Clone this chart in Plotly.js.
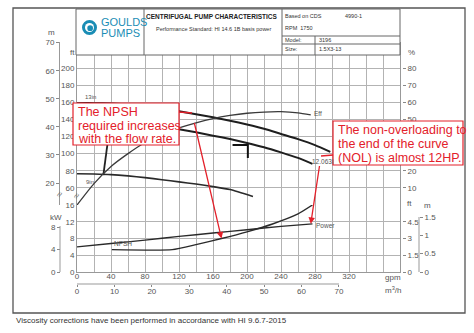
<!DOCTYPE html>
<html><head><meta charset="utf-8">
<script src="https://cdn.plot.ly/plotly-3.0.1.min.js"></script>
<style>html,body{margin:0;padding:0;background:#fff}#chart{width:474px;height:333px}</style>
</head><body><div id="chart"></div>
<script>
// ---------- data ----------
const gpmGrid = [0,20,40,60,80,100,120,140,160,180,200,220,240,260,280,300,320,340,360,380];
const gpmLabels = [0,40,80,120,160,200,240,280,320];
const m3hTicks = [0,10,20,30,40,50,60,70];
const headFtTicks = [40,60,80,100,120,140,160,180,200];
const headMTicks = [20,30,40,50,60,70];
const effTicks = [10,20,30,40,50,60,70,80];
const effHiddenByNote = [30,40];
const hpTicks = [0,4,8,12,16];
const kwTicks = [0,4,8];
const npshFtTicks = [0,1.5,3,4.5];
const npshMTicks = [0,0.5,1,1.5];

const gpm13 = [0,20,40,60,80,100,120,140,160,180,200,220,240,260,280,298];
const head13 = [159,159,158.5,157.5,155.5,153,149.5,146,142.5,138.5,134,129,123,117,110,102];
const gpm12 = [0,20,40,60,80,100,120,140,160,180,200,220,240,260,277];
const head12 = [137,137,136.5,135.5,134,131.5,128.5,125,121,117,112.5,107.5,101.5,95,88];
const gpm9 = [0,20,40,60,80,100,120,140,160,180,207];
const head9 = [76.5,76.2,75.5,74,72,69.5,67,64.5,61.5,58,50];
const gpmEff = [0,20,40,60,80,100,120,140,160,180,200,220,240,260,275];
const eff = [0,12.5,22.5,30,36.5,41.5,45,48,50.5,52.3,53.6,54.3,54.5,53.8,52.6];
const gpmPower = [0,40,80,120,160,200,240,277];
const power = [6.0,6.8,7.6,8.5,9.3,10.1,10.9,11.5];
const gpmNpsh = [41,112,140,170,200,230,260,277];
const npsh = [2.0,2.0,2.45,3.0,3.6,4.3,5.2,6.0];
const gpmMinFlow = [31,37];
const headMinFlow = [75,120];
const gpmRated = [183,201,201];
const headRated = [110,110,95];
const npshArrowTip = {gpm:170, ft:3.0};
const powerArrowTip = {gpm:275, hp:11.5};

// ---------- helpers ----------
const W=474,H=333;
const X=v=>v/W, Y=v=>1-v/H;
const FF='Liberation Sans, Arial, sans-serif';
const tickFont={family:FF,size:8,color:'#555'};
const gridC='#b3b3b3';
const RED='#e3202a', TEAL='#1a8db5';
const ftPerM=3.2808, gpmPerM3h=4.4029, kwPerHp=0.7457;
const ftRange=[40,230.4], hpRange=[0,16], npshRange=[0,6];

const line=(x,y,xa,ya,color,w)=>({x,y,xaxis:xa,yaxis:ya,type:'scatter',mode:'lines',
  line:{color,width:w,shape:'spline',smoothing:0.6},hoverinfo:'skip',showlegend:false});
const dummy=(xa,ya)=>({x:[null],y:[null],xaxis:xa,yaxis:ya,type:'scatter',mode:'lines',hoverinfo:'skip',showlegend:false});

const traces=[
  line(gpm13,head13,'x','y','#1e1e1e',2),
  line(gpm12,head12,'x','y','#1e1e1e',2),
  line(gpm9,head9,'x','y','#2a2a2a',1.6),
  line(gpmEff,eff,'x','y2','#3a3a3a',1.3),
  {x:gpmMinFlow,y:headMinFlow,xaxis:'x',yaxis:'y',type:'scatter',mode:'lines',line:{color:'#222',width:1.8},hoverinfo:'skip',showlegend:false},
  {x:gpmRated,y:headRated,xaxis:'x',yaxis:'y',type:'scatter',mode:'lines',line:{color:'#111',width:2},hoverinfo:'skip',showlegend:false},
  line(gpmPower,power,'x','y3','#2a2a2a',1.4),
  {x:gpmNpsh,y:npsh,xaxis:'x',yaxis:'y4',type:'scatter',mode:'lines',line:{color:'#2a2a2a',width:1.4,shape:'spline',smoothing:0.5},hoverinfo:'skip',showlegend:false},
  dummy('x','y5'),dummy('x','y6'),dummy('x','y7'),dummy('x2','y3')
];

const upDom=[Y(205),Y(42)], loDom=[Y(272),Y(205)];
const baseY={showgrid:false,zeroline:false,ticks:'outside',ticklen:3,tickcolor:'#888',tickfont:tickFont,fixedrange:true,showline:false,tickmode:'array'};

const layout={
  width:W,height:H,margin:{l:0,r:0,t:0,b:0,autoexpand:false},
  paper_bgcolor:'#fff',plot_bgcolor:'rgba(0,0,0,0)',showlegend:false,
  xaxis:{domain:[X(77),X(400)],range:[0,380],anchor:'y3',tickmode:'array',tickvals:gpmGrid,
    ticktext:gpmGrid.map(v=>gpmLabels.includes(v)?String(v):''),showgrid:true,gridcolor:gridC,gridwidth:1,
    zeroline:false,showline:true,linecolor:'#999',ticks:'',ticklabelstandoff:-4,tickfont:tickFont,fixedrange:true},
  xaxis2:{overlaying:'x',anchor:'free',position:Y(284),side:'bottom',range:[0,380/gpmPerM3h],tickmode:'array',
    tickvals:m3hTicks,ticks:'outside',ticklen:2,tickcolor:'#888',ticklabelstandoff:-3,tickfont:tickFont,showgrid:false,zeroline:false,showline:false,fixedrange:true},
  yaxis:{domain:upDom,range:ftRange,anchor:'x',tickmode:'array',tickvals:headFtTicks,ticktext:headFtTicks.map(v=>v===40?'':String(v)),
    showgrid:true,gridcolor:gridC,gridwidth:1,zeroline:false,showline:true,linecolor:'#999',mirror:true,ticks:'',tickfont:tickFont,fixedrange:true},
  yaxis2:Object.assign({},baseY,{overlaying:'y',anchor:'free',position:X(402),side:'right',range:[(ftRange[0]-40)/2,(ftRange[1]-40)/2],
    tickvals:effTicks,ticktext:effTicks.map(v=>effHiddenByNote.includes(v)?'':String(v))}),
  yaxis3:{domain:loDom,range:hpRange,anchor:'x',tickmode:'array',tickvals:hpTicks,showgrid:true,gridcolor:gridC,gridwidth:1,zeroline:false,
    showline:true,linecolor:'#999',mirror:true,ticks:'',tickfont:tickFont,fixedrange:true},
  yaxis4:Object.assign({},baseY,{overlaying:'y3',anchor:'free',position:X(402),side:'right',range:npshRange,tickvals:npshFtTicks,ticktext:['0','1.5','3','4.5']}),
  yaxis5:Object.assign({},baseY,{overlaying:'y',anchor:'free',position:X(59),side:'left',range:[ftRange[0]/ftPerM,ftRange[1]/ftPerM],tickvals:headMTicks,showline:true,linecolor:'#999'}),
  yaxis6:Object.assign({},baseY,{overlaying:'y3',anchor:'free',position:X(60),side:'left',range:[0,hpRange[1]*kwPerHp],tickvals:kwTicks}),
  yaxis7:Object.assign({},baseY,{overlaying:'y3',anchor:'free',position:X(419),side:'right',range:[0,npshRange[1]/ftPerM],tickvals:npshMTicks,ticktext:['0','0.5','1','1.5']}),
  shapes:[],annotations:[]
};

const S=layout.shapes, A=layout.annotations;
const pl=(x0,y0,x1,y1,color,w)=>S.push({type:'line',xref:'paper',yref:'paper',x0:X(x0),x1:X(x1),y0:Y(y0),y1:Y(y1),line:{color,width:w},layer:'above'});
const rect=(x0,y0,x1,y1,color,w,fill)=>S.push({type:'rect',xref:'paper',yref:'paper',x0:X(x0),x1:X(x1),y0:Y(y1),y1:Y(y0),line:{color,width:w},fillcolor:fill||'rgba(0,0,0,0)',layer:'above'});
const txt=(t,x,y,size,color,xanchor,extra)=>A.push(Object.assign({text:t,xref:'paper',yref:'paper',x:X(x),y:Y(y),xanchor:xanchor||'left',yanchor:'middle',showarrow:false,font:{family:FF,size,color}},extra||{}));

// outer frame
rect(13,8,465,313,'#555',1.3);
// axis line segments for kW, NPSH m, m3/h
pl(60,226,60,272,'#999',1);
pl(419,217,419,272,'#999',1);
pl(77,284,77+70*gpmPerM3h*323/380,284,'#999',1);
// header
rect(76,9,400,55,'#666',1,'#fff');
pl(144,9,144,55,'#666',1);
pl(282,9,282,55,'#666',1);
pl(282,36,400,36,'#666',1);
pl(282,44,400,44,'#666',1);
pl(315,36,315,55,'#666',1);
S.push({type:'circle',xref:'paper',yref:'paper',x0:X(82),x1:X(97),y0:Y(35),y1:Y(20),fillcolor:TEAL,line:{width:0},layer:'above'});
S.push({type:'circle',xref:'paper',yref:'paper',x0:X(85),x1:X(94),y0:Y(32),y1:Y(23),fillcolor:'#fff',line:{width:0},layer:'above'});
S.push({type:'circle',xref:'paper',yref:'paper',x0:X(87.3),x1:X(93),y0:Y(31),y1:Y(25.3),fillcolor:TEAL,line:{width:0},layer:'above'});
txt('GOULDS',99,22.5,11,TEAL);
txt('PUMPS',99,33,11,TEAL);
txt('<b>CENTRIFUGAL PUMP CHARACTERISTICS</b>',212,16,6.5,'#222','center');
txt('Performance Standard: HI 14.6 1B basis power',213,29,5.5,'#333','center');
txt('Based on CDS',283,16,5.5,'#333');
txt('4990-1',343,16,5.5,'#333');
txt('RPM  1750',283,28,5.5,'#333');
txt('Model:',283,40,5.5,'#333');
txt('3196',317,40,5.5,'#333');
txt('Size:',283,49,5.5,'#333');
txt('1.5X3-13',317,49,5.5,'#333');
// axis titles
txt('m',46,33,8,'#555');
txt('ft',68,52,8,'#555');
txt('kW',48,217,8,'#555');
txt('%',406,52,8,'#555');
txt('ft',405,203,8,'#555');
txt('m',422,205,8,'#555');
txt('gpm',383,277.5,8,'#555');
txt('m<sup>3</sup>/h',383,290,8,'#555');
txt('≈',59,194,10,'#777','center',{textangle:-60});
txt('≈',77,196,10,'#777','center',{textangle:-60});
// curve labels
txt('13in',83,97,6,'#555');
txt('9in',84,182,6,'#555');
txt('Eff',312,113,6.5,'#555');
txt('12.063i',310,161,6.5,'#555');
txt('Power',314,225,6.5,'#555');
txt('NPSH',112,243,6.5,'#555');
// callout 1
rect(73,103,179,145,RED,1.2,'#fff');
pl(179,112,192,113,RED,1.3);
txt('The NPSH',76,112,12.5,RED);
txt('required increases',76,126,12.5,RED);
txt('with the flow rate.',76,139.5,12.5,RED);
A.push({text:' ',xref:'x',yref:'y4',x:npshArrowTip.gpm,y:npshArrowTip.ft,ax:192-(77+npshArrowTip.gpm*323/380),ay:113-(272-npshArrowTip.ft*67/6),
  showarrow:true,arrowhead:2,arrowsize:1,arrowwidth:1.3,arrowcolor:RED});
// callout 2
rect(333,121,463,165,RED,1.2,'#fff');
pl(333,155,321,156,RED,1.3);
txt('The non-overloading to',336,130,12.5,RED);
txt('the end of the curve',336,144,12.5,RED);
txt('(NOL) is almost 12HP.',336,158,12.5,RED);
A.push({text:' ',xref:'x',yref:'y3',x:powerArrowTip.gpm,y:powerArrowTip.hp,ax:321-(77+powerArrowTip.gpm*323/380),ay:156-(272-powerArrowTip.hp*67/16),
  showarrow:true,arrowhead:2,arrowsize:1,arrowwidth:1.3,arrowcolor:RED});
// footer
txt('Viscosity corrections have been performed in accordance with HI 9.6.7-2015',14,320.5,8,'#333');

Plotly.newPlot('chart',traces,layout,{staticPlot:true,displayModeBar:false});
</script></body></html>
